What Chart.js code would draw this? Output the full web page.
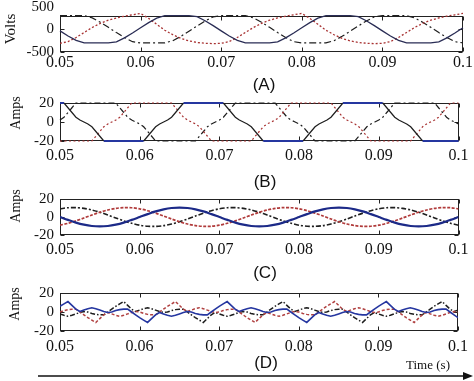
<!DOCTYPE html>
<html><head><meta charset="utf-8">
<script src="https://cdn.jsdelivr.net/npm/chart.js@4.4.1/dist/chart.umd.min.js"></script>
<style>
html,body{margin:0;padding:0;background:#fff;}
#wrap{position:relative;width:474px;height:381px;overflow:hidden;background:#fff;}
canvas{position:absolute;left:0;}
.lbl{position:absolute;font-family:'Liberation Sans',Arial,sans-serif;font-size:17px;color:#111;transform:translate(-50%,-50%);white-space:nowrap;line-height:1;}
.ytitle{position:absolute;font-family:'Liberation Serif','Times New Roman',serif;font-size:14px;color:#111;transform:translate(-50%,-50%) rotate(-90deg);white-space:nowrap;line-height:1;}
.time{position:absolute;font-family:'Liberation Serif','Times New Roman',serif;font-size:13px;color:#111;transform:translate(-50%,-50%);white-space:nowrap;line-height:1;}
</style></head><body>
<div id="wrap">
<canvas id="cA" width="474" height="76" style="top:0px"></canvas>
<canvas id="cB" width="474" height="80" style="top:88px"></canvas>
<canvas id="cC" width="474" height="80" style="top:184px"></canvas>
<canvas id="cD" width="474" height="80" style="top:278px"></canvas>
<div class="ytitle" style="left:10px;top:29px;font-size:15px">Volts</div>
<div class="ytitle" style="left:16px;top:113px">Amps</div>
<div class="ytitle" style="left:16px;top:206px">Amps</div>
<div class="ytitle" style="left:15px;top:304px">Amps</div>
<div class="lbl" style="left:264px;top:84px">(A)</div>
<div class="lbl" style="left:265px;top:181px">(B)</div>
<div class="lbl" style="left:265px;top:272px">(C)</div>
<div class="lbl" style="left:266px;top:362px">(D)</div>
<div class="time" style="left:428px;top:364px">Time (s)</div>
<svg style="position:absolute;left:0;top:0" width="474" height="381">
<line x1="38" y1="376" x2="466" y2="376" stroke="#111" stroke-width="1.5"/>
<polygon points="463,372 473,376 463,380" fill="#111"/>
</svg>
</div>
<script>
// ---- axis ticks ----
const xTicks = [0.05, 0.06, 0.07, 0.08, 0.09, 0.1];
const xTickLabels = ['0.05', '0.06', '0.07', '0.08', '0.09', '0.1'];
const voltTicks = [-500, 0, 500];
const voltTickLabels = ['-500', '0', '500'];
const ampTicks = [-20, 0, 20];
const ampTickLabels = ['-20', '0', '20'];

// ---- sample times (s) ----
const tStart = 0.05;
const time1ms = Array.from({length: 51}, (_, i) => +(tStart + i * 0.001).toFixed(4));
const time05ms = Array.from({length: 101}, (_, i) => +(tStart + i * 0.0005).toFixed(5));

// ---- (A) phase voltages, 1 ms samples ----
const voltsSolid = [-35,-147,-245,-300,-300,-300,-300,-278,-189,-81,35,147,245,300,300,300,300,278,189,81,
 -35,-147,-245,-300,-300,-300,-300,-278,-189,-81,35,147,245,300,300,300,300,278,189,81,
 -35,-147,-245,-300,-300,-300,-300,-278,-189,-81,35];
const voltsDotted = [-310,-270,-180,-70,40,130,200,250,290,320,350,240,110,-20,-120,-200,-255,-290,-308,-315,
 -310,-270,-180,-70,40,130,200,250,290,320,350,240,110,-20,-120,-200,-255,-290,-308,-315,
 -310,-270,-180,-70,40,130,200,250,290,320,350];
const voltsDashDot = [300,300,300,300,251,155,43,-73,-182,-273,-300,-300,-300,-300,-251,-155,-43,73,182,273,
 300,300,300,300,251,155,43,-73,-182,-273,-300,-300,-300,-300,-251,-155,-43,73,182,273,
 300,300,300,300,251,155,43,-73,-182,-273,-300];

// ---- (B) load currents, 0.5 ms samples ----
const loadSolid = [20,
 20,15,10,5,2,0,-2,-5,-10,-15,-20,-20,-20,-20,-20,-20,-20,-20,-20,-20,-20,-15,-10,-5,-2,0,2,5,10,15,20,20,20,20,20,20,20,20,20,20,
 20,15,10,5,2,0,-2,-5,-10,-15,-20,-20,-20,-20,-20,-20,-20,-20,-20,-20,-20,-15,-10,-5,-2,0,2,5,10,15,20,20,20,20,20,20,20,20,20,20,
 20,15,10,5,2,0,-2,-5,-10,-15,-20,-20,-20,-20,-20,-20,-20,-20,-20,-20];
const loadDotted = [-20,-20,-20,-20,-20,-20,-20,-20,-20,-15,-10,-5,-2,0,2,5,10,15,20,20,20,20,20,20,20,20,20,20,
 20,15,10,5,2,0,-2,-5,-10,-15,-20,-20,-20,-20,-20,-20,-20,-20,-20,-20,-20,-15,-10,-5,-2,0,2,5,10,15,20,20,20,20,20,20,20,20,20,20,
 20,15,10,5,2,0,-2,-5,-10,-15,-20,-20,-20,-20,-20,-20,-20,-20,-20,-20,-20,-15,-10,-5,-2,0,2,5,10,15,20,20,20];
const loadDashDot = [2,5,10,15,20,20,20,20,20,20,20,20,20,20,
 20,15,10,5,2,0,-2,-5,-10,-15,-20,-20,-20,-20,-20,-20,-20,-20,-20,-20,-20,-15,-10,-5,-2,0,2,5,10,15,20,20,20,20,20,20,20,20,20,20,
 20,15,10,5,2,0,-2,-5,-10,-15,-20,-20,-20,-20,-20,-20,-20,-20,-20,-20,-20,-15,-10,-5,-2,0,2,5,10,15,20,20,20,20,20,20,20,20,20,20,
 20,15,10,5,2,0,-2];

// ---- (C) source currents, 1 ms samples ----
const srcBlue = [0,-3.2,-6.2,-8.5,-10,-10.5,-10,-8.5,-6.2,-3.2,0,3.2,6.2,8.5,10,10.5,10,8.5,6.2,3.2,
 0,-3.2,-6.2,-8.5,-10,-10.5,-10,-8.5,-6.2,-3.2,0,3.2,6.2,8.5,10,10.5,10,8.5,6.2,3.2,
 0,-3.2,-6.2,-8.5,-10,-10.5,-10,-8.5,-6.2,-3.2,0];
const srcRed = [-9.1,-7,-4.3,-1.1,2.2,5.3,7.8,9.6,10.4,10.3,9.1,7,4.3,1.1,-2.2,-5.3,-7.8,-9.6,-10.4,-10.3,
 -9.1,-7,-4.3,-1.1,2.2,5.3,7.8,9.6,10.4,10.3,9.1,7,4.3,1.1,-2.2,-5.3,-7.8,-9.6,-10.4,-10.3,
 -9.1,-7,-4.3,-1.1,2.2,5.3,7.8,9.6,10.4,10.3,9.1];
const srcBlack = [9.1,10.3,10.4,9.6,7.8,5.3,2.2,-1.1,-4.3,-7,-9.1,-10.3,-10.4,-9.6,-7.8,-5.3,-2.2,1.1,4.3,7,
 9.1,10.3,10.4,9.6,7.8,5.3,2.2,-1.1,-4.3,-7,-9.1,-10.3,-10.4,-9.6,-7.8,-5.3,-2.2,1.1,4.3,7,
 9.1,10.3,10.4,9.6,7.8,5.3,2.2,-1.1,-4.3,-7,-9.1];

// ---- (D) compensating currents, 0.5 ms samples ----
const compBlue = [6,8.5,
 11,7,3,0.5,2,3.5,4.5,3.5,2,0.5,-0.5,0,1.5,2.5,3,3,0,-3,-6,-8.5,-11,-7,-3,-0.5,-2,-3.5,-4.5,-3.5,-2,-0.5,0.5,0,-1.5,-2.5,-3,-3,0,3,6,8.5,
 11,7,3,0.5,2,3.5,4.5,3.5,2,0.5,-0.5,0,1.5,2.5,3,3,0,-3,-6,-8.5,-11,-7,-3,-0.5,-2,-3.5,-4.5,-3.5,-2,-0.5,0.5,0,-1.5,-2.5,-3,-3,0,3,6,8.5,
 11,7,3,0.5,2,3.5,4.5,3.5,2,0.5,-0.5,0,1.5,2.5,3,3,0,-3,-6];
const compDashDot = [-2,-3.5,-4.5,-3.5,-2,-0.5,0.5,0,-1.5,-2.5,-3,-3,0,3,6,8.5,
 11,7,3,0.5,2,3.5,4.5,3.5,2,0.5,-0.5,0,1.5,2.5,3,3,0,-3,-6,-8.5,-11,-7,-3,-0.5,-2,-3.5,-4.5,-3.5,-2,-0.5,0.5,0,-1.5,-2.5,-3,-3,0,3,6,8.5,
 11,7,3,0.5,2,3.5,4.5,3.5,2,0.5,-0.5,0,1.5,2.5,3,3,0,-3,-6,-8.5,-11,-7,-3,-0.5,-2,-3.5,-4.5,-3.5,-2,-0.5,0.5,0,-1.5,-2.5,-3,-3,0,3,6,8.5,
 11,7,3,0.5,2];
const compDashed = [0,1.5,2.5,3,3,0,-3,-6,-8.5,-11,-7,-3,-0.5,-2,-3.5,-4.5,-3.5,-2,-0.5,0.5,0,-1.5,-2.5,-3,-3,0,3,6,8.5,
 11,7,3,0.5,2,3.5,4.5,3.5,2,0.5,-0.5,0,1.5,2.5,3,3,0,-3,-6,-8.5,-11,-7,-3,-0.5,-2,-3.5,-4.5,-3.5,-2,-0.5,0.5,0,-1.5,-2.5,-3,-3,0,3,6,8.5,
 11,7,3,0.5,2,3.5,4.5,3.5,2,0.5,-0.5,0,1.5,2.5,3,3,0,-3,-6,-8.5,-11,-7,-3,-0.5,-2,-3.5,-4.5,-3.5,-2,-0.5,0.5,0];

// ---- helpers ----
const pts = (times, vals) => vals.map((v, i) => ({x: times[i], y: v}));
const serif = "'Liberation Serif','Times New Roman',serif";

const boxPlugin = {
  id: 'boxTicks',
  beforeDatasetsDraw(chart) {
    const {ctx, chartArea: a, scales: {x, y}} = chart;
    ctx.save();
    ctx.strokeStyle = '#222';
    ctx.lineWidth = 1;
    const L = Math.round(a.left) + 0.5, R = Math.round(a.right) - 0.5;
    const T = Math.round(a.top) + 0.5, B = Math.round(a.bottom) - 0.5;
    ctx.strokeRect(L, T, R - L, B - T);
    const len = 4;
    ctx.beginPath();
    x.ticks.forEach(t => {
      const px = Math.round(x.getPixelForValue(t.value)) + 0.5;
      ctx.moveTo(px, T); ctx.lineTo(px, T + len);
      ctx.moveTo(px, B); ctx.lineTo(px, B - len);
    });
    y.ticks.forEach(t => {
      if (t.value < y.min || t.value > y.max) return;
      const py = Math.round(y.getPixelForValue(t.value)) + 0.5;
      ctx.moveTo(L, py); ctx.lineTo(L + len, py);
      ctx.moveTo(R, py); ctx.lineTo(R - len, py);
    });
    ctx.stroke();
    ctx.restore();
  }
};

function makeChart(id, c) {
  return new Chart(document.getElementById(id), {
    type: 'line',
    data: {datasets: c.datasets},
    options: {
      responsive: false, animation: false, devicePixelRatio: 1,
      layout: {padding: {top: c.padTop, right: 11, left: 0, bottom: 0}},
      plugins: {legend: {display: false}, tooltip: {enabled: false}},
      elements: {point: {radius: 0}, line: {tension: c.tension || 0}},
      scales: {
        x: {
          type: 'linear', min: 0.05, max: 0.1,
          afterBuildTicks: s => { s.ticks = xTicks.map(v => ({value: v})); },
          afterFit: s => { s.height = c.xH; },
          grid: {display: false, drawTicks: false}, border: {display: false},
          ticks: {callback: v => xTickLabels[xTicks.indexOf(v)], font: {family: serif, size: 16}, color: '#111', padding: c.xPad, maxRotation: 0, autoSkip: false}
        },
        y: {
          type: 'linear', min: c.ymin, max: c.ymax,
          afterBuildTicks: s => { s.ticks = c.yTicks.map(v => ({value: v})); },
          afterFit: s => { s.width = 60; },
          grid: {display: false, drawTicks: false}, border: {display: false},
          ticks: {callback: v => c.yLabels[c.yTicks.indexOf(v)], font: {family: serif, size: 15}, color: '#111', padding: 6, autoSkip: false}
        }
      }
    },
    plugins: [boxPlugin]
  });
}

const navy = '#2a2d55', red = '#a83232', blk = '#1e1e1e', blue = '#2536a0';

makeChart('cA', {
  padTop: 16, xH: 24, xPad: 1, ymin: -500, ymax: 293, yTicks: voltTicks, yLabels: voltTickLabels,
  datasets: [
    {data: pts(time1ms, voltsSolid), borderColor: navy, borderWidth: 1.3, clip: false},
    {data: pts(time1ms, voltsDotted), borderColor: red, borderWidth: 1.3, borderDash: [2, 2], clip: false},
    {data: pts(time1ms, voltsDashDot), borderColor: blk, borderWidth: 1.2, borderDash: [7, 3, 2, 3], clip: false}
  ]
});

makeChart('cB', {
  padTop: 12, xH: 27, xPad: 5.5, ymin: -20, ymax: 20, yTicks: ampTicks, yLabels: ampTickLabels,
  datasets: [
    {data: pts(time05ms, loadSolid), borderColor: blk, borderWidth: 1.2, clip: false,
     segment: {borderColor: s => (Math.abs(s.p0.parsed.y) >= 19.5 && Math.abs(s.p1.parsed.y) >= 19.5) ? blue : blk,
               borderWidth: s => (Math.abs(s.p0.parsed.y) >= 19.5 && Math.abs(s.p1.parsed.y) >= 19.5) ? 2 : 1.2}},
    {data: pts(time05ms, loadDotted), borderColor: red, borderWidth: 1.2, borderDash: [2, 2.5], clip: false},
    {data: pts(time05ms, loadDashDot), borderColor: blk, borderWidth: 1.2, borderDash: [6, 3, 2, 3], clip: false}
  ]
});

makeChart('cC', {
  padTop: 10, xH: 29, xPad: 5.5, ymin: -20, ymax: 20, yTicks: ampTicks, yLabels: ampTickLabels, tension: 0.3,
  datasets: [
    {data: pts(time1ms, srcBlue), borderColor: '#1c2a88', borderWidth: 2.2},
    {data: pts(time1ms, srcRed), borderColor: '#b03a3a', borderWidth: 1.7, borderDash: [3, 1.5]},
    {data: pts(time1ms, srcBlack), borderColor: blk, borderWidth: 1.6, borderDash: [5, 2, 2, 2]}
  ]
});

makeChart('cD', {
  padTop: 12, xH: 27, xPad: 6, ymin: -20, ymax: 20, yTicks: ampTicks, yLabels: ampTickLabels,
  datasets: [
    {data: pts(time05ms, compBlue), borderColor: blue, borderWidth: 1.6},
    {data: pts(time05ms, compDashed), borderColor: '#b04040', borderWidth: 1.5, borderDash: [3, 2]},
    {data: pts(time05ms, compDashDot), borderColor: blk, borderWidth: 1.5, borderDash: [5, 2, 1.5, 2]}
  ]
});
</script>
</body></html>
